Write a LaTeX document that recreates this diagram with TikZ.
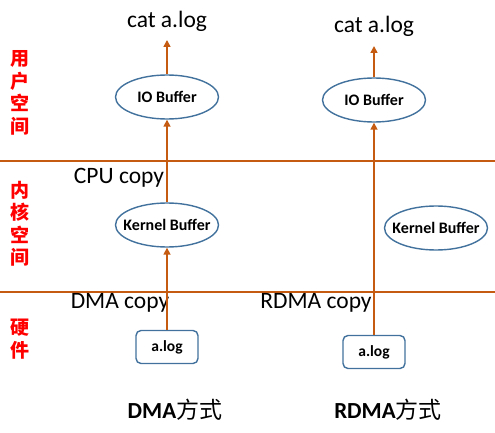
\documentclass[tikz,border=0pt]{standalone}
\usepackage{fontspec}
\setmainfont{Carlito}
\newfontfamily\cjk{Noto Sans CJK SC}
\usetikzlibrary{shapes.geometric,arrows.meta}
\definecolor{copyline}{RGB}{197,90,17}
\definecolor{bufblue}{RGB}{65,113,156}
\tikzset{
  buf/.style={ellipse,draw=bufblue,line width=1.4pt,minimum width=103pt,minimum height=44pt,inner xsep=-8pt,inner ysep=0pt,font=\fontsize{16}{18}\selectfont\bfseries},
  filebox/.style={rectangle,rounded corners=5pt,draw=bufblue,line width=1.4pt,minimum width=62pt,minimum height=33pt,inner sep=0pt,font=\fontsize{15.5}{17}\selectfont\bfseries},
  big/.style={font=\fontsize{23.5}{25}\selectfont},
  space/.style={text=red,align=center,font=\cjk\bfseries\fontsize{19}{22.5}\selectfont},
  flow/.style={copyline,line width=1.6pt,-{Triangle[length=7pt,width=7pt]}}
}
\begin{document}
\begin{tikzpicture}[x=1pt,y=-1pt]
  \useasboundingbox (0,0) rectangle (495,433);
  % layer borders
  \draw[copyline,line width=1.6pt] (0,161) -- (495,161);
  \draw[copyline,line width=1.6pt] (0,292) -- (495,292);
  \draw
    (20,93) node[space] (user){用\\户\\空\\间}
    (20,224) node[space] (kernel){内\\核\\空\\间}
    (20,339) node[space] (hw){硬\\件};
  % DMA
  \draw
    (167,21) node[big] (catL){cat a.log}
    (167,97) node[buf] (ioL){IO Buffer}
    (167,225) node[buf] (kbL){Kernel Buffer}
    (167,347) node[filebox] (logL){a.log}
    (119,178) node[big] (cpu){CPU copy}
    (120,303) node[big] (dma){DMA copy}
    (175,410) node[big,font=\fontsize{23}{25}\selectfont\bfseries] (dmaway){DMA{\cjk\mdseries 方式}};
  % RDMA
  \draw
    (374,26) node[big] (catR){cat a.log}
    (374,100) node[buf] (ioR){IO Buffer}
    (436,228) node[buf] (kbR){Kernel Buffer}
    (374,352) node[filebox] (logR){a.log}
    (316,303) node[big] (rdma){RDMA copy}
    (388,410) node[big,font=\fontsize{23}{25}\selectfont\bfseries] (rdmaway){RDMA{\cjk\mdseries 方式}};
  \coordinate (topL) at (167,40);
  \coordinate (topR) at (374,46);
  \begin{scope}[flow]
    \draw (logL) to (kbL);
    \draw (kbL) to (ioL);
    \draw (ioL) to (topL);
    \draw (logR) to (ioR);
    \draw (ioR) to (topR);
  \end{scope}
\end{tikzpicture}
\end{document}
